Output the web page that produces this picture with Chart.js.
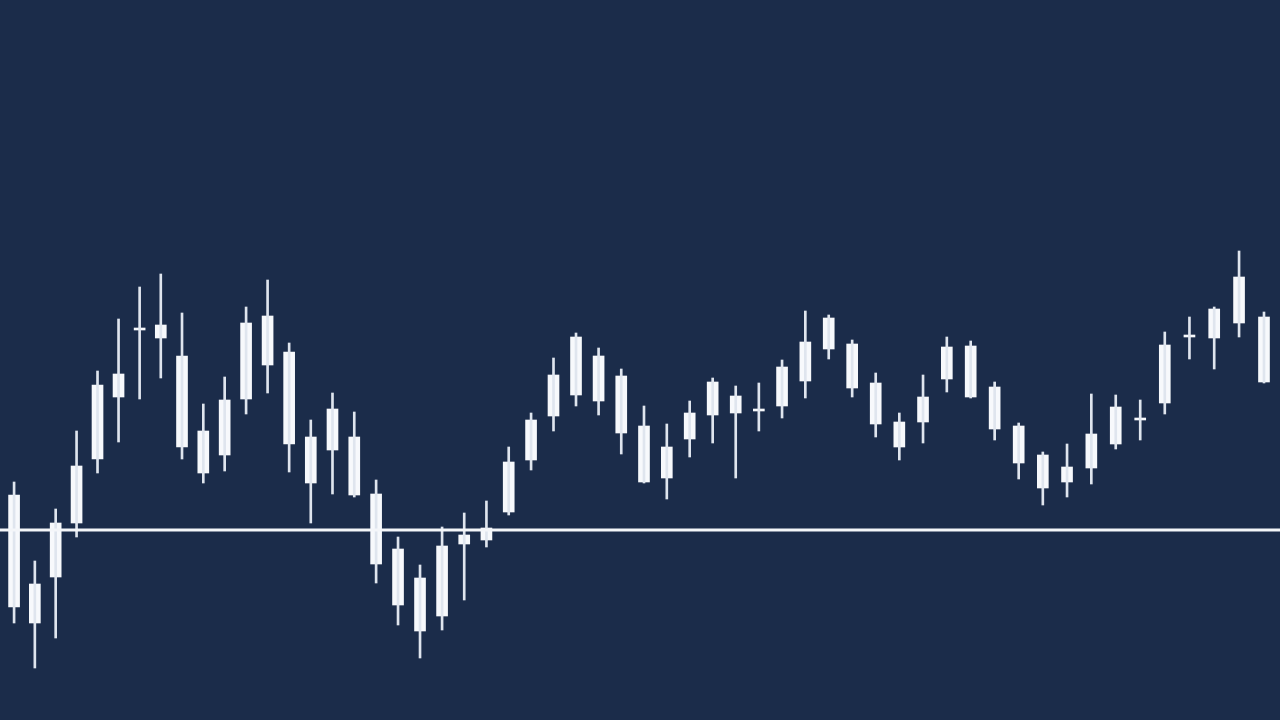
<!DOCTYPE html>
<html>
<head>
<meta charset="utf-8">
<script src="https://cdn.jsdelivr.net/npm/chart.js@4/dist/chart.umd.min.js"></script>
<style>
  html, body { margin: 0; padding: 0; background: #1b2c4a; overflow: hidden; }
  #wrap { width: 1280px; height: 720px; }
</style>
</head>
<body>
<div id="wrap"><canvas id="c" width="1280" height="720"></canvas></div>
<script>
// Candle data (price units)
const labels = Array.from({length: 56}, (_, i) => 'C' + (i + 1));
const opens  = [113,136,143,197,261,323,390,382,364,289,265,321,355,368,283,311,283,226,171,142,174,176,180,208,260,304,325,364,344,294,242,281,305,307,309,314,339,402,376,337,298,298,341,374,333,294,265,253,252,276,300,317,383,382,397,403];
const closes = [225, 97,197,254,335,346,392,395,273,247,320,397,404,276,237,270,225,156,115, 89,104,185,192,258,300,345,383,319,287,238,273,307,338,324,311,353,378,371,332,296,273,323,373,323,291,257,232,238,286,313,302,375,385,411,443,338];
const highs  = [238,159,211,289,349,401,433,446,407,316,343,413,440,377,300,327,308,240,183,155,193,207,219,273,307,362,387,372,351,314,296,319,342,334,337,360,409,405,380,347,307,345,383,379,338,297,268,276,326,325,320,388,403,413,469,408];
const lows   = [ 97, 52, 82,183,247,278,321,342,261,237,249,306,327,248,197,226,223,137, 95, 62, 90,120,173,205,250,289,314,305,266,237,221,263,277,242,289,302,322,361,323,283,260,277,328,322,280,241,215,223,236,271,280,306,361,351,383,337];
const supportLevel = 190;

// The reference's candle spacing widens gradually from left to right (a slight
// perspective / zoom in the picture). A reversed logarithmic index axis reproduces that.
const K = 323;
const xs = labels.map((_, i) => K - i);

const wickData = labels.map((_, i) => ({ x: xs[i], y: [lows[i], highs[i]] }));
const bodyData = labels.map((_, i) => ({ x: xs[i], y: [Math.min(opens[i], closes[i]), Math.max(opens[i], closes[i])] }));

const levelLine = {
  id: 'levelLine',
  afterDatasetsDraw(chart) {
    const y = chart.scales.y.getPixelForValue(supportLevel);
    const ctx = chart.ctx;
    ctx.save();
    ctx.strokeStyle = '#f4f6f9';
    ctx.lineWidth = 3;
    ctx.beginPath();
    ctx.moveTo(0, y);
    ctx.lineTo(chart.width, y);
    ctx.stroke();
    ctx.restore();
  }
};

new Chart(document.getElementById('c'), {
  type: 'bar',
  data: {
    datasets: [
      { label: 'wick', data: wickData, backgroundColor: '#dfe5ee', barThickness: 2, grouped: false, borderWidth: 0, borderSkipped: false },
      { label: 'body', data: bodyData, backgroundColor: '#f7f9fc', barThickness: 11, grouped: false, borderWidth: 0, borderSkipped: false, minBarLength: 2 }
    ]
  },
  options: {
    responsive: false,
    devicePixelRatio: 1,
    animation: false,
    layout: { padding: 0 },
    plugins: { legend: { display: false }, tooltip: { enabled: false } },
    scales: {
      x: { type: 'logarithmic', reverse: true, min: K - 55 - 0.64, max: K + 0.68, display: false, grid: { display: false } },
      y: { min: 0, max: 720, display: false, grid: { display: false } }
    }
  },
  plugins: [levelLine]
});
</script>
</body>
</html>
